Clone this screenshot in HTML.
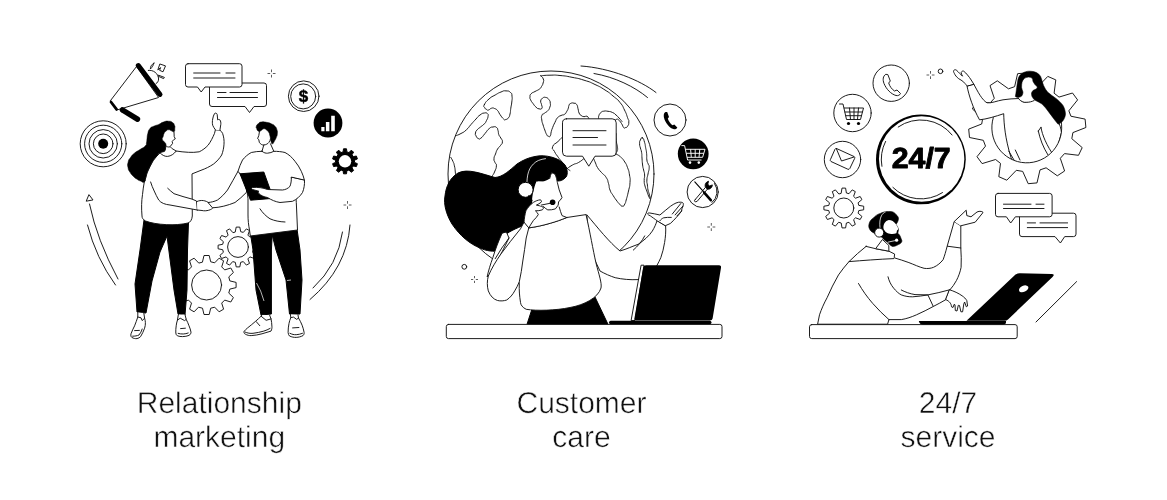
<!DOCTYPE html>
<html><head><meta charset="utf-8"><title>Customer service illustrations</title>
<style>
html,body{margin:0;padding:0;background:#fff;}
body{width:1167px;height:500px;overflow:hidden;position:relative;font-family:"Liberation Sans",sans-serif;}
svg{position:absolute;left:0;top:0;will-change:transform;}
text{text-rendering:geometricPrecision;}
.l{fill:none;stroke:#111;stroke-width:0.95;stroke-linecap:round;stroke-linejoin:round;}
.w{fill:#fff;stroke:#111;stroke-width:0.95;stroke-linecap:round;stroke-linejoin:round;}
.t{font-family:"Liberation Sans",sans-serif;fill:#000;}
.cap{font-family:"Liberation Sans",sans-serif;font-size:30px;text-anchor:middle;fill:#111;stroke:#fff;stroke-width:0.5px;}
</style></head><body>
<svg width="1167" height="500" viewBox="0 0 1167 500">
<g id="s1">
<path d="M89.5,204 Q97,240 118,279" class="l"/>
<path d="M87.5,225 Q96,258 115.5,285" class="l"/>
<path d="M88.8,195 L86.2,201.2 L92.6,200 Z" class="l"/>
<path d="M350,225 Q347,268 310,299.5" class="l"/>
<path d="M342.5,232 Q338,265 313,288" class="l"/>
<path d="M347.5,201V203.7M347.5,206.3V209M343.5,205H346.2M348.8,205H351.5" stroke="#333" stroke-width="0.8" fill="none"/>
<path d="M271.5,69.5V72.2M271.5,74.8V77.5M267.5,73.5H270.2M272.8,73.5H275.5" stroke="#333" stroke-width="0.8" fill="none"/>
<circle cx="103.2" cy="143.8" r="23" class="l"/>
<circle cx="103.2" cy="143.8" r="18.6" class="l"/>
<circle cx="103.2" cy="143.8" r="14.2" class="l"/>
<circle cx="103.2" cy="143.8" r="9.8" class="l"/>
<circle cx="103.2" cy="143.8" r="5" fill="#000"/>
<path d="M148.3,70.4 C153,69.5 158.5,73.5 158.6,79 C158.6,81 157.5,82.8 156,83.7" class="w"/>
<path d="M136.7,66.9 L158.6,97.5 L117.5,109.8 L110.5,101.2 Z" class="w"/>
<path d="M138.3,65.6 L160,94.4" stroke="#000" stroke-width="5" stroke-linecap="round"/>
<path d="M111,102 L116.6,109.4" stroke="#000" stroke-width="2.8" stroke-linecap="round"/>
<path d="M122.5,110 L137.4,119.2" stroke="#000" stroke-width="5.5" stroke-linecap="round"/>
<path d="M153.9,63.1 C151.5,64.5 150.2,66.8 150.4,69 C152,67.5 153.5,65.2 153.9,63.1Z M160.2,64.1 L165.5,65.9 L163,71.8 L159.6,70.3 L160.6,67.6 L158.1,69.7 Z M158.8,75.3 L164.4,77.4 L163.6,78.6 L158.6,76.4Z" class="w" stroke-width="0.8"/>
<path d="M212,83 H264 Q266.5,83 266.5,85.5 V104 Q266.5,106.5 264,106.5 H254 L249.5,112.5 L245,106.5 H212 Q209.5,106.5 209.5,104 V85.5 Q209.5,83 212,83Z" class="w"/>
<path d="M217.5,92.5H226M230,92.5H257.5M217.5,97.5H257.5" class="l"/>
<path d="M188,63.7 H239.5 Q242,63.7 242,66.2 V84.5 Q242,87 239.5,87 H205 L201.2,92 L197.5,87 H188 Q185.5,87 185.5,84.5 V66.2 Q185.5,63.7 188,63.7Z" class="w"/>
<path d="M193.7,73H220M226,73H235M193.7,78H235" class="l"/>
<circle cx="303.7" cy="96.2" r="15.3" class="w"/>
<circle cx="303.2" cy="96.4" r="12.5" class="l"/>
<text x="303.6" y="102.3" font-size="17" font-weight="bold" text-anchor="middle" class="t" stroke="#000" stroke-width="0.4">$</text>
<circle cx="328" cy="123" r="14.4" fill="#000"/>
<path d="M321.3,127H324.5V131.3H321.3Z M325.9,122H329.4V131.3H325.9Z M331.2,115.8H334.8V131.3H331.2Z" fill="#fff"/>
<path d="M354.5 162.4 L357.4 163.7 L356.4 166.6 L353.4 166.0 L352.0 167.8 L353.6 170.5 L351.1 172.3 L349.0 170.0 L346.9 170.7 L346.5 173.8 L343.5 173.8 L343.1 170.7 L341.0 170.0 L338.9 172.3 L336.4 170.5 L338.0 167.8 L336.6 166.0 L333.6 166.6 L332.6 163.7 L335.5 162.4 L335.5 160.2 L332.6 158.9 L333.6 156.0 L336.6 156.6 L338.0 154.8 L336.4 152.1 L338.9 150.3 L341.0 152.6 L343.1 151.9 L343.5 148.8 L346.5 148.8 L346.9 151.9 L349.0 152.6 L351.1 150.3 L353.6 152.1 L352.0 154.8 L353.4 156.6 L356.4 156.0 L357.4 158.9 L354.5 160.2Z" fill="#000" stroke="#000" stroke-width="1" stroke-linejoin="round"/>
<circle cx="345" cy="161.3" r="6.2" fill="#fff"/>
<path d="M235.3 231.7 L236.2 227.1 L239.8 227.1 L240.7 231.7 L243.3 232.4 L246.4 228.9 L249.5 230.6 L247.9 235.1 L249.9 237.1 L254.4 235.5 L256.1 238.6 L252.6 241.7 L253.3 244.3 L257.9 245.2 L257.9 248.8 L253.3 249.7 L252.6 252.3 L256.1 255.4 L254.4 258.5 L249.9 256.9 L247.9 258.9 L249.5 263.4 L246.4 265.1 L243.3 261.6 L240.7 262.3 L239.8 266.9 L236.2 266.9 L235.3 262.3 L232.7 261.6 L229.6 265.1 L226.5 263.4 L228.1 258.9 L226.1 256.9 L221.6 258.5 L219.9 255.4 L223.4 252.3 L222.7 249.7 L218.1 248.8 L218.1 245.2 L222.7 244.3 L223.4 241.7 L219.9 238.6 L221.6 235.5 L226.1 237.1 L228.1 235.1 L226.5 230.6 L229.6 228.9 L232.7 232.4Z" class="w" stroke-linejoin="round"/>
<circle cx="238" cy="247" r="10.4" class="l"/>
<path d="M202.5 261.8 L204.0 255.5 L209.2 255.5 L210.7 261.8 L214.7 262.8 L219.1 258.2 L223.6 260.8 L221.7 266.9 L224.7 269.9 L230.8 268.0 L233.4 272.5 L228.8 276.9 L229.8 280.9 L236.1 282.4 L236.1 287.6 L229.8 289.1 L228.8 293.1 L233.4 297.5 L230.8 302.0 L224.7 300.1 L221.7 303.1 L223.6 309.2 L219.1 311.8 L214.7 307.2 L210.7 308.2 L209.2 314.5 L204.0 314.5 L202.5 308.2 L198.5 307.2 L194.1 311.8 L189.6 309.2 L191.5 303.1 L188.5 300.1 L182.4 302.0 L179.8 297.5 L184.4 293.1 L183.4 289.1 L177.1 287.6 L177.1 282.4 L183.4 280.9 L184.4 276.9 L179.8 272.5 L182.4 268.0 L188.5 269.9 L191.5 266.9 L189.6 260.8 L194.1 258.2 L198.5 262.8Z" class="w" stroke-linejoin="round"/>
<circle cx="206.6" cy="285" r="15" class="l"/>
<path d="M144,220 L188.5,222 L187.5,250 L187,290 L185,315 L178,314 L174,290 L167,236 L160,252 L152,281 L146,313 L137,312 L135,284 L140,250 Z" fill="#000" stroke="#000" stroke-width="1" stroke-linejoin="round"/>
<path d="M137.8,312.6 L137.8,317 C136.8,320 135.7,323 134.6,325.8 C133.2,328.5 132,331.2 131,333.8 C130.6,335.5 130.9,336.7 131.8,337.4 C133.5,338.4 135.2,338.8 137,338.6 C138.5,338.3 139.7,337.6 140.6,336.6 C142.2,334 143.5,331.2 144.6,328.2 C145.2,326.3 145.5,324.5 145.4,322.6 C145.3,321 145,319.5 144.6,318.2 L143.8,313" class="w"/>
<path d="M137.8,317 L141,317.8 L142.2,320.6 L144.6,318.2 M134.6,330.6 L139.4,330.4 M132.6,336.2 C135,336.2 137.2,335.8 139,335 C140.5,333.3 141.5,331.2 142.2,329" class="l" stroke-width="0.8"/>
<path d="M178.4,314.4 L177.4,320.2 C176.8,322 176.4,324 176.2,325.8 C175.8,328.2 175.7,330.6 175.8,333 C176,334.4 176.5,335.3 177.4,335.8 C179,336.4 180.8,336.7 182.6,336.6 C184.8,336.6 187,336.2 189,335.4 C190.3,334.6 191,333.5 191,332.2 C190.6,330 189.9,327.8 189,325.8 C188.2,323.6 187.3,321.4 186.2,319.4 L185,314.6" class="w"/>
<path d="M177.4,320.2 L180.2,318.2 L184.6,320.6 L186.2,319.4 M180.6,328.6 L185.4,328.2 M178.2,333.4 C181.5,334.4 185,334.2 188.2,333" class="l" stroke-width="0.8"/>
<path d="M160,152.8 C162.5,155.5 165,156.6 167.7,156.4 C171,156 174,154 176.2,151 C180,151.6 184,152.1 188.4,152.3 C192,152.5 195.5,152.4 199.2,151.8 C202.5,150.3 205.5,148 208.2,145.1 C210.8,141.5 212.8,137.5 214.5,133.4 L215.4,129.8 L219.9,130.2 C221,131 222,132 222.6,133.4 C223.8,137 224.3,140.5 224,144.2 C223.8,148 223,151.5 221.7,155 C219.5,158.5 216.8,161.5 213.6,164 C209.8,166.6 205.5,168.7 201,170.3 L192,173.9 L192.3,216 C192,220 190,222.5 188,223 C176,226 156,225 145.5,221 C143,219.5 142,218 142,216 C141.3,208 141.5,201 142.5,194.6 C143,190 143.5,186 144.3,182 C145.5,178.5 146.5,175.5 147,173 C149,168.5 151,164.3 153.3,160.4 C155.5,157.5 158,154.8 160,152.8 Z" class="w"/>
<path d="M215.4,129.8 C214.3,128.3 213.3,126.8 212.7,125.3 C212.2,123.2 212.3,121 212.7,119 C213,117 213.7,115 214.5,113.6 C215.5,112.6 216.8,113.2 217.2,114.5 L217.7,119.9 C218.5,119.3 219.3,119.3 219.9,119.9 C220.8,121.3 221,122.8 220.8,124.4 L219.9,130.2" class="w"/>
<path d="M174.5,125.3 C173.7,123.3 174.5,123.9 172.5,122.5 C170.5,121.1 171.6,121.4 168.6,121.2 C165.6,121.0 166.8,120.9 163.5,122.0 C160.2,123.1 162.0,123.0 158.7,124.4 C155.4,125.8 156.5,124.8 153.5,126.3 C150.5,127.8 151.6,126.5 149.7,128.9 C147.8,131.3 148.7,130.2 147.8,133.5 C146.9,136.8 147.4,135.8 147.0,138.8 C146.6,141.8 147.1,140.1 146.5,142.5 C145.9,144.9 147.4,143.7 145.2,146.0 C143.0,148.3 143.6,147.1 140.0,149.5 C136.4,151.9 137.6,150.5 134.4,153.2 C131.2,155.9 132.6,154.5 130.5,157.5 C128.4,160.5 128.9,158.9 128.1,162.2 C127.3,165.5 127.4,164.2 128.0,167.5 C128.6,170.8 128.2,169.3 129.9,172.1 C131.6,174.9 130.6,173.6 133.0,176.0 C135.4,178.4 134.6,177.6 137.1,179.3 C139.6,181.0 138.1,180.1 140.5,181.0 C142.9,181.9 142.5,183.2 144.3,182.0 C146.1,180.8 144.9,180.5 145.8,177.5 C146.7,174.5 145.6,176.7 147.0,173.0 C148.4,169.3 147.9,170.7 150.0,166.5 C152.1,162.3 151.0,163.8 153.3,160.4 C155.6,157.0 154.6,158.7 156.8,156.2 C159.0,153.7 157.8,154.3 160.0,152.8 C162.2,151.3 161.8,152.6 163.5,151.8 C165.2,151.0 164.3,152.0 165.0,150.5 C165.7,149.0 165.4,149.4 165.7,147.3 C166.0,145.2 166.4,146.0 165.9,144.2 C165.4,142.4 165.4,143.5 164.2,141.8 C163.0,140.1 162.6,141.0 162.3,139.2 C162.0,137.4 162.6,138.4 163.2,136.5 C163.8,134.6 163.2,135.2 164.1,133.4 C165.0,131.6 164.5,132.4 166.0,131.2 C167.5,130.0 166.8,129.9 168.6,129.8 C170.4,129.7 169.5,130.2 171.3,130.8 C173.1,131.4 172.8,132.4 174.0,131.6 C175.2,130.8 174.6,130.6 174.8,128.5 C175.0,126.4 175.3,127.3 174.5,125.3Z" fill="#000" stroke="#000" stroke-width="0.5"/>
<path d="M174,131.6 L174.2,136.6 L175.3,138.8 L173.8,139.6 L172.2,141.5 L172.6,143.4 L171.3,145.1 C170.8,146 170.2,146.6 169.5,146.9 C168.3,147.2 167,146.8 165.9,146 M170.3,146.8 L172.2,148.7 L176.2,151 M165.7,147.3 L165,150.5 L160,152.8" class="l"/>
<path d="M150.6,182 C151.5,185 152.8,188 154.2,191 C155.5,194 157,197 158.7,200 C161,203 165,204.5 170,205 L197.3,210 L196.5,201 L192,199.1 C186,197.5 180,195.8 174,193.7 C171.8,192 169.7,190.2 167.7,188.3 Z" fill="#fff" stroke="none"/>
<path d="M150.6,182 C151.5,185 152.8,188 154.2,191 C155.5,194 157,197 158.7,200 C161,203 165,204.5 170,205 L197.3,210" class="l"/>
<path d="M167.7,188.3 C169.7,190.2 171.8,192 174,193.7 C180,195.8 186,197.5 192,199.1 L196.5,201 L197.3,210" class="l"/>
<path d="M197,201.5 C201,199.5 206,200.5 209,203 C212,203.5 214,205 213.5,207 C212,210 206,211.5 202,210.5 L197.3,210" class="w"/>
<path d="M250.5,234 L297,229 L300,250 L302,280 L300,314 L289.5,314 L286,280 L276,250 L272.2,235 L271.4,250 L271.4,314 L261,315 L256,290 L253,250 Z" fill="#000" stroke="#000" stroke-width="1" stroke-linejoin="round"/>
<path d="M256.5,283 Q261,290 264,301" stroke="#fff" stroke-width="0.7" fill="none"/>
<path d="M287,280.5 L291,280" stroke="#fff" stroke-width="0.7" fill="none"/>
<path d="M262,314.9 L261.1,316.2 C259.3,318 257.5,319.6 255.7,321.2 C253,323.5 250.3,325.8 247.6,327.9 C246.2,329 245,330.2 244,331.5 C243.8,332.8 244.3,333.7 245.4,334.2 C247.2,335.2 249.2,335.7 251.2,335.6 C254.8,335.4 258.4,334.8 262,333.8 C265,333 268,332.1 271,331.1 C271.8,329.5 272.1,327.8 271.9,326.1 C271.8,323.6 271.5,321.2 271,318.9 L269.7,315.3" class="w"/>
<path d="M261.1,316.2 L266.1,320.3 L271,318.9 M256.2,321.6 L259.8,325.7 M244.9,332 C247.6,333.2 250.3,333.6 253,333.3 C256.6,332.9 260.2,332.1 263.8,331.1 C266,330.4 268.1,329.5 270.1,328.4" class="l" stroke-width="0.8"/>
<path d="M290.4,314.4 L290.8,317.6 C290,319.5 289.4,321.5 289,323.4 C288.4,326.4 288.1,329.4 288.1,332.4 C288.2,334 288.7,335.2 289.5,336 C291.7,337 294,337.5 296.2,337.4 C298.6,337.3 300.9,336.7 303,335.6 C303.9,334.7 304.3,333.6 304.1,332.4 C303.7,330 303,327.6 302.1,325.2 C301.1,322.7 299.9,320.3 298.5,318 L298,314.9" class="w"/>
<path d="M290.8,317.6 L293.5,317.1 L296.7,319.4 L298.5,318 M292.6,327.9 L298.9,327.5 M289.9,333.3 C292,334.4 294.1,334.8 296.2,334.7 C298.4,334.6 300.5,334.1 302.5,333.3" class="l" stroke-width="0.8"/>
<path d="M238,171.3 C234.5,177.5 231,184 227.5,190 C224.5,194 221,197.5 217.5,200 C214.5,201.5 211,202.3 208,202.5 L212.5,207.8 C220,207.5 227.5,205.5 235,202.5 C239,199.5 243,196 246.3,192.5 L248,185 Z" class="w"/>
<path d="M262,151.3 C264,153 266,153.3 267.5,153.2 C270,153 272,152.3 273.8,151.3 C277.5,151.3 281.3,151.6 285,152.5 C288.8,154.5 292.2,157.5 295,161.3 C297.5,164.3 299.6,167.6 301.3,171.3 C302.7,174.3 303.8,177.4 304.5,180.5 L291.3,177.5 C294.5,186 296,194.5 296.3,202.5 L297.5,230 L250.3,236 L249.5,230 C248.5,225 248,220 248,215 L248,198.8 C247,189 244.5,178.5 238,171.3 C239.2,167.3 240.7,163.5 242.5,160 C245,156.8 248,154.3 251.3,152.5 C254.8,151.7 258.4,151.3 262,151.3 Z" class="w"/>
<path d="M260,208.8 C262.5,212.8 266,216.2 270,218.8 C274.5,220.8 279.5,221.8 285,222" class="l"/>
<path d="M263.8,145 L262,151.3 M270.5,143.8 L273.8,151.3" class="l"/>
<path d="M256.3,126.3 C256.9,124.5 256.8,124.9 258.5,123.5 C260.2,122.1 258.6,122.4 261.3,122.0 C264.0,121.6 263.2,121.7 266.5,122.3 C269.8,122.9 268.5,122.5 271.3,123.8 C274.1,125.1 273.1,124.2 275.0,126.3 C276.9,128.4 276.2,127.4 277.0,130.0 C277.8,132.6 277.5,131.5 277.3,134.0 C277.1,136.5 277.2,135.2 276.3,137.5 C275.4,139.8 275.8,138.9 274.5,141.0 C273.2,143.1 273.7,143.6 272.5,143.8 C271.3,144.0 271.7,143.2 271.0,141.5 C270.3,139.8 270.9,140.8 270.5,138.8 C270.1,136.8 270.4,137.6 269.8,135.5 C269.2,133.4 269.9,134.3 268.8,132.5 C267.7,130.7 268.2,131.2 266.5,130.0 C264.8,128.8 265.5,128.7 263.8,128.8 C262.1,128.9 262.9,129.5 261.5,130.3 C260.1,131.1 260.8,131.2 259.5,131.3 C258.2,131.4 258.4,131.3 257.5,130.5 C256.6,129.7 257.2,130.2 256.8,128.8 C256.4,127.4 255.7,128.1 256.3,126.3Z" fill="#000" stroke="#000" stroke-width="0.5"/>
<path d="M259.5,131.3 L258.8,135.5 L257.6,138.6 L258.8,139.6 L259.3,142.3 C260.5,144.2 262.3,145.2 263.8,145 C266,144.8 267.8,143.8 268.8,142.5 C269.8,141.3 270.3,140 270.5,138.8" class="l"/>
<path d="M240,173.8 L263.8,172 L272.3,195.5 L271,198.5 L250.5,200.2 Z" fill="#000" stroke="#000" stroke-width="1" stroke-linejoin="round"/>
<path d="M291.3,177.5 C291.5,180.5 291,183.5 290,186.3 C288,188.5 285.5,189.7 282.5,190 L267.5,189.5 C263,187.8 257.5,187 252.5,187.5 C251.3,188 251.3,189 252.5,189.5 L259,191.3 C258,192 258,193 258.8,193.5 C261,195.5 264,197 267.5,197.5 C271.5,200 275.5,201.8 280,202.5 L292.5,201.3 C296.5,199.5 300,196.5 302.5,192.5 C304,188.8 304.7,184.8 304.5,180.5 Z" class="w"/>
</g>
<g id="s2">
<path d="M581,66 C610,68 640,80 656,92.5" class="l"/>
<path d="M594,73.5 C615,77 635,87 647.5,97.5" class="l"/>
<circle cx="551" cy="174" r="103" class="w"/>
<path d="M484.4,104.6 C485.9,101.8 485.4,102.2 489.0,99.0 C492.6,95.8 491.2,97.3 495.2,95.0 C499.2,92.7 497.4,93.4 501.0,92.0 C504.6,90.6 502.8,90.7 506.0,90.9 C509.2,91.1 508.5,90.7 510.5,92.5 C512.5,94.3 511.6,93.0 512.0,96.2 C512.4,99.4 512.2,98.0 511.8,102.0 C511.4,106.0 511.4,104.2 510.8,108.2 C510.2,112.2 510.8,110.8 510.0,114.0 C509.2,117.2 509.8,116.0 508.4,117.8 C507.0,119.6 507.4,119.1 505.8,119.5 C504.2,119.9 505.5,120.7 503.6,119.0 C501.7,117.3 502.0,117.3 500.0,114.5 C498.0,111.7 499.4,112.6 497.6,110.6 C495.8,108.6 496.5,109.3 494.5,108.5 C492.5,107.7 493.6,107.7 491.6,108.2 C489.6,108.7 490.2,109.6 488.5,110.0 C486.8,110.4 487.8,110.2 486.5,109.4 C485.2,108.6 485.3,109.1 484.6,107.5 C483.9,105.9 482.9,107.4 484.4,104.6Z" class="l"/>
<path d="M455.6,135.8 C457.4,135.0 457.4,135.5 461.0,133.5 C464.6,131.5 463.1,132.8 466.4,129.8 C469.7,126.8 467.8,128.1 471.0,124.5 C474.2,120.9 473.0,122.2 476.0,119.0 C479.0,115.8 477.2,117.0 480.0,115.0 C482.8,113.0 481.9,113.4 484.4,113.0 C486.9,112.6 486.3,112.6 487.5,113.8 C488.7,115.0 488.3,114.4 488.0,116.6 C487.7,118.8 487.7,118.1 486.5,120.5 C485.3,122.9 486.4,121.6 484.4,123.8 C482.4,126.0 482.9,125.0 480.5,127.0 C478.1,129.0 478.9,127.8 477.2,129.8 C475.5,131.8 475.9,131.0 475.5,133.0 C475.1,135.0 475.2,134.0 476.0,135.8 C476.8,137.6 476.4,137.5 478.0,138.3 C479.6,139.1 478.5,139.8 480.8,138.2 C483.1,136.6 482.2,136.7 485.0,133.5 C487.8,130.3 486.5,130.8 489.2,128.6 C491.9,126.4 490.6,127.4 493.0,127.0 C495.4,126.6 494.7,126.2 496.4,127.4 C498.1,128.6 497.2,128.1 498.0,130.5 C498.8,132.9 497.9,132.1 498.8,134.6 C499.7,137.1 499.6,135.6 500.8,138.0 C502.0,140.4 502.5,139.3 502.4,141.8 C502.3,144.3 502.1,143.1 500.5,145.5 C498.9,147.9 499.3,146.2 497.6,149.0 C495.9,151.8 496.7,150.8 495.5,154.0 C494.3,157.2 494.2,155.8 494.0,158.6 C493.8,161.4 494.2,160.1 495.0,162.5 C495.8,164.9 496.6,162.6 496.4,165.8 C496.2,169.0 496.1,168.0 494.5,172.0 C492.9,176.0 492.9,173.8 491.6,177.8 C490.3,181.8 490.9,181.9 490.5,184.0" class="l"/>
<path d="M450.8,157.4 C451.5,158.8 451.8,158.7 453.0,161.5 C454.2,164.3 453.6,162.3 454.4,165.8 C455.2,169.3 454.9,168.0 455.3,172.0 C455.7,176.0 455.7,174.1 455.6,177.8 C455.5,181.5 455.2,181.3 455.0,183.0" class="l"/>
<path d="M540.7,75.8 C541.6,76.9 542.5,76.6 543.3,79.0 C544.1,81.4 543.7,80.5 543.1,83.0 C542.5,85.5 542.7,84.5 541.5,86.5 C540.3,88.5 541.7,87.3 539.5,89.0 C537.3,90.7 537.8,89.9 535.0,91.5 C532.2,93.1 532.8,92.0 531.1,93.8 C529.4,95.6 530.2,94.8 530.0,96.8 C529.8,98.8 529.6,97.6 530.6,99.8 C531.6,102.0 531.2,101.1 533.0,103.5 C534.8,105.9 533.9,105.2 535.9,107.0 C537.9,108.8 537.0,108.4 539.0,108.8 C541.0,109.2 541.1,109.6 541.9,108.2 C542.7,106.8 541.9,106.9 541.5,104.5 C541.1,102.1 540.4,103.1 540.7,101.0 C541.0,98.9 540.9,99.5 542.5,98.3 C544.1,97.1 543.4,97.0 545.5,97.4 C547.6,97.8 547.2,97.5 548.8,99.5 C550.4,101.5 550.0,100.8 550.3,103.4 C550.6,106.0 550.6,104.8 549.8,107.2 C549.0,109.6 549.7,108.6 547.9,110.6 C546.1,112.6 546.5,111.6 544.5,113.2 C542.5,114.8 542.8,113.1 541.9,115.4 C541.0,117.7 541.4,116.8 541.8,120.0 C542.2,123.2 542.1,121.7 543.1,125.0 C544.1,128.3 543.6,126.8 544.8,130.0 C546.0,133.2 545.5,132.5 546.7,134.6 C547.9,136.7 547.3,135.9 548.5,136.3 C549.7,136.7 549.4,137.4 550.3,135.8 C551.2,134.2 550.5,134.3 551.3,131.5 C552.1,128.7 551.5,130.5 552.7,127.4 C553.9,124.3 553.4,125.5 555.0,122.3 C556.6,119.1 555.5,120.1 557.5,117.8 C559.5,115.5 558.6,116.7 561.0,115.5 C563.4,114.3 562.8,115.6 564.7,114.2 C566.6,112.8 565.6,113.3 566.8,111.3 C568.0,109.3 567.6,110.2 568.3,108.2 C569.0,106.2 568.2,106.9 569.0,105.3 C569.8,103.7 569.0,104.1 570.7,103.4 C572.4,102.7 572.0,102.8 574.0,103.2 C576.0,103.6 575.4,102.8 576.7,104.6 C578.0,106.4 577.2,105.9 578.0,108.7 C578.8,111.5 578.1,110.8 579.1,113.0 C580.1,115.2 579.4,114.1 581.0,115.3 C582.6,116.5 581.9,116.3 583.9,116.6 C585.9,116.9 585.3,115.6 587.0,116.3 C588.7,117.0 588.3,118.0 589.0,118.8" class="l"/>
<path d="M540.7,75.8 C543.8,75.6 543.6,75.3 550.0,75.2 C556.4,75.1 552.7,74.8 560.0,75.5 C567.3,76.2 564.0,75.7 572.0,77.3 C580.0,78.9 576.3,77.8 584.0,80.2 C591.7,82.6 588.0,81.2 595.0,84.5 C602.0,87.8 599.0,86.2 605.0,90.0 C611.0,93.8 608.0,91.8 613.0,96.0 C618.0,100.2 616.2,97.8 620.0,102.5 C623.8,107.2 622.0,105.0 624.5,110.0 C627.0,115.0 626.1,113.5 627.5,117.5 C628.9,121.5 628.8,119.1 628.8,122.0 C628.8,124.9 628.7,124.4 627.5,126.3 C626.3,128.2 626.6,127.2 625.3,127.6 C624.0,128.0 625.0,128.9 623.7,127.5 C622.4,126.1 623.2,126.0 621.5,123.5 C619.8,121.0 620.3,121.4 618.7,120.0 C617.1,118.6 617.9,119.3 616.8,119.3 C615.7,119.3 615.9,119.8 615.5,120.0" class="l"/>
<path d="M598.7,118.8 C598.8,117.7 598.1,117.6 598.9,115.5 C599.7,113.4 599.4,113.9 601.0,112.5 C602.6,111.1 601.4,111.6 603.7,111.2 C606.0,110.8 605.1,110.9 608.0,111.3 C610.9,111.7 609.8,111.3 612.5,112.5 C615.2,113.7 613.8,113.2 616.0,115.0 C618.2,116.8 617.0,115.8 619.0,118.0 C621.0,120.2 621.0,120.3 622.0,121.5" class="l"/>
<path d="M562.5,137.0 C561.0,138.5 561.3,138.3 558.0,141.5 C554.7,144.7 553.9,143.3 552.7,146.6 C551.5,149.9 552.9,148.3 554.5,151.5 C556.1,154.7 555.0,152.7 557.5,156.2 C560.0,159.7 558.8,158.0 562.0,162.0 C565.2,166.0 564.4,165.4 567.1,168.2 C569.8,171.0 569.0,169.7 570.0,170.5" class="l"/>
<path d="M566.0,169.5 C568.2,168.0 568.3,167.3 572.5,165.0 C576.7,162.7 574.8,164.6 578.5,162.5 C582.2,160.4 582.0,160.0 583.7,158.7" class="l"/>
<path d="M593.7,158.7 C594.3,160.1 594.2,160.1 595.5,163.0 C596.8,165.9 595.5,164.3 597.5,167.5 C599.5,170.7 598.6,169.2 601.5,172.5 C604.4,175.8 603.9,173.8 606.2,177.5 C608.5,181.2 607.2,179.3 608.5,183.5 C609.8,187.7 608.5,186.1 610.0,190.0 C611.5,193.9 610.9,192.0 613.0,195.3 C615.1,198.6 614.1,197.2 616.2,200.0 C618.3,202.8 617.2,201.7 619.3,203.8 C621.4,205.9 620.7,206.1 622.5,206.2 C624.3,206.3 623.6,206.1 624.8,204.0 C626.0,201.9 625.0,204.3 626.2,200.0 C627.4,195.7 627.2,196.8 628.5,191.0 C629.8,185.2 629.7,187.8 630.0,182.5 C630.3,177.2 630.3,180.0 629.5,175.0 C628.7,170.0 629.1,171.8 627.5,167.5 C625.9,163.2 626.9,165.3 624.8,162.0 C622.7,158.7 623.3,159.7 621.2,157.5 C619.1,155.3 620.2,156.6 618.5,155.3 C616.8,154.0 616.6,155.3 616.2,153.7 C615.8,152.1 616.9,152.6 617.3,150.5 C617.7,148.4 617.8,150.8 617.5,147.5 C617.2,144.2 616.7,145.1 616.3,140.5 C615.9,135.9 616.2,136.0 616.2,133.7" class="l"/>
<path d="M642.5,137.8 C643.9,138.6 643.6,139.3 644.6,142.5 C645.6,145.7 644.9,143.8 645.6,147.5 C646.3,151.2 646.2,149.3 646.6,153.5 C647.0,157.7 646.4,156.5 646.9,160.0 C647.4,163.5 647.4,161.5 648.2,164.0 C649.0,166.5 649.3,164.2 649.2,167.5 C649.1,170.8 648.8,169.8 648.0,174.0 C647.2,178.2 647.1,176.3 646.9,180.0 C646.7,183.7 647.0,181.7 647.4,185.0 C647.8,188.3 647.4,187.0 648.0,190.0 C648.6,193.0 648.5,191.2 649.2,194.0 C649.9,196.8 650.4,197.8 650.2,198.5 C650.0,199.2 649.7,198.5 648.6,196.0 C647.5,193.5 648.0,194.3 646.8,191.0 C645.6,187.7 645.9,189.5 645.0,186.0 C644.1,182.5 644.3,184.2 644.2,180.5 C644.1,176.8 644.8,178.5 644.6,175.0 C644.4,171.5 644.3,173.3 643.6,170.0 C642.9,166.7 643.1,169.0 642.6,165.0 C642.1,161.0 642.3,162.2 642.0,158.0 C641.7,153.8 642.1,155.8 641.6,152.5 C641.1,149.2 641.1,150.9 640.4,148.0 C639.7,145.1 639.6,146.4 639.6,143.7 C639.6,141.0 639.4,142.0 640.4,140.0 C641.4,138.0 641.1,137.0 642.5,137.8Z" class="l"/>
<path d="M566.5,118.8 H612.2 Q616.2,118.8 616.2,122.8 V152.2 Q616.2,156.2 612.2,156.2 H595 L588.8,166.2 L582.5,156.2 H566.5 Q562.5,156.2 562.5,152.2 V122.8 Q562.5,118.8 566.5,118.8Z" class="w"/>
<path d="M573,130.7H606M573,137.5H597.5M573,145H606" class="l"/>
<circle cx="670" cy="120" r="16" class="w"/>
<path d="M665.5,112 C663.5,113 663.2,116 664.5,119.5 C666.5,124.5 670.5,128.5 674,129.3 C675.5,129.5 677,128.5 677.3,127.5 L674.3,124.5 L672.5,125.3 C670.5,124 668.5,121 667.8,118.5 L669,117 L667.2,112 Z" fill="#000"/>
<circle cx="693.2" cy="153.8" r="15.4" fill="#000"/>
<path d="M681.4,145.6 H684.6 L687.6,160 H701.5 M685.4,149.3 H705 L702.6,157.3 H687 M686.2,153.3 H703.8 M690.6,149.3 L691.3,157.3 M695.2,149.3 V157.3 M699.8,149.3 L699,157.3" stroke="#fff" stroke-width="0.95" fill="none" stroke-linejoin="round"/>
<circle cx="690" cy="162.6" r="1.3" fill="#fff"/><circle cx="698.8" cy="162.6" r="1.3" fill="#fff"/>
<circle cx="702.7" cy="192" r="15.6" class="w"/>
<path d="M714.5,183.5 A14,14 0 0 1 712,202.5" class="l" stroke-width="0.7"/>
<path d="M695.2,199.6 L705.6,187.2 L707.6,188.9 L697.2,201.3 Q695.6,202.3 694.6,201.3 Q694,200.4 695.2,199.6Z" class="w" stroke-width="0.9"/>
<path d="M705.2,186.6 C704.6,184.2 706,181.8 708.6,181.2 L707.8,184.2 L709.6,185.9 L712.4,184.9 C712.2,187.6 710,189.6 707.4,189.2 Z" fill="#000" stroke="#000" stroke-width="0.8" stroke-linejoin="round"/>
<path d="M694.8,181.8 L704,192.2" stroke="#000" stroke-width="1.1" stroke-linecap="round"/>
<path d="M704.2,192.6 L710.8,200.2" stroke="#000" stroke-width="2.6" stroke-linecap="round"/>
<path d="M711.3,223V225.7M711.3,228.3V231M707.3,227H710.0M712.5999999999999,227H715.3" stroke="#333" stroke-width="0.8" fill="none"/>
<path d="M474.5,276.0V278.2M474.5,280.8V283.0M471.0,279.5H473.2M475.8,279.5H478.0" stroke="#333" stroke-width="0.8" fill="none"/>
<circle cx="464.3" cy="266.8" r="2.4" class="l"/>
<path d="M587,215 C598,228 609,242 620,251 C627,249 633,246 638,244.4 C644,240.5 649,236 652.3,231.1 C654.5,227.5 656,224 657,220.7 L665.6,225.6 C666,231.5 665.5,237 664.6,242.5 C663.8,247.8 662.5,252.8 660.8,257.7 C659.5,260.5 658.3,263 657,265.3 C652,272.5 645.5,277.5 638,279.6 C630,280 622.5,279.3 615.2,277.7 C610,276 605,273.8 600,271 L590,250 Z" class="w"/>
<path d="M633.3,250.1 C638,246 642,241.3 644.7,235.9" class="l"/>
<path d="M657,220.7 C654.5,218.8 652.3,217.3 650.4,215.9 C649,215.3 648,214.7 647.5,214 C647.8,213 648.8,212.8 649.8,213 C653,213.5 656.5,214.2 659.9,215 C663.5,212 667,209 670.3,206.4 C672.2,205 674.2,203.8 676,203 C677.8,202.3 679.5,202 680.8,202.2 C682.3,202.3 683.3,202.8 683.3,203.6 C683.5,205 683,206.8 682.1,208.3 L681.4,211.2 C679.8,213.5 678,215.8 676,217.8 C674.2,219.8 672.3,221.8 670.3,223.5 L665.6,225.6 Z" class="w"/>
<path d="M680.8,203.5 L672.3,214 M682.7,206.3 L675.1,214.9 M681.7,211 L677,215.8 M659.9,220.7 C661,219.3 662.3,218.3 663.7,217.8 C666.3,217.3 668.8,217.3 671.3,217.4" class="l" stroke-width="0.8"/>
<path d="M532,309 L595,297 L608,324.3 L527,324.3 Z" fill="#000" stroke="#000" stroke-width="1"/>
<path d="M528.8,227.9 C540,226.5 556,222 566.8,217.5 L586,214.6 C590,232 593,250 596,263 C599,275 602,283 601,288 C598,298 584,305 570,307.5 C556,310.5 536.6,311 526.2,309.3 C522.5,307.5 520.7,305 520.5,302.4 C519.5,296 519,290 519.3,284 L517,270 L521,240 Z" class="w"/>
<path d="M535,156.5 C545,154 560,158 565,165 C568,170 568,176 565,178 C562,181 559,181 557.5,181 C556,177 555,174 552.5,173.5 C550,176 549,180 547,181.5 L538,181 C535,184 534,188 535,192 L533,203 C531,212 526,222 522,226 C512,230 505,234 502,238 C501,244 501,248 500,250.5 C494,252 486,251 480,248 C470,244 460,236 452,224 C446,214 443.5,204 445,196 C446,186 450,178 458,173 C468,168 482,174 495,177.5 C503,177 510,170 517,164 C523,160 529,157.5 535,156.5 Z" fill="#000" stroke="#000" stroke-width="1"/>
<path d="M536.4,181.4 L543,181.4 C545.5,181 548,180 549.7,178.5 C550.3,176.3 550.8,174.3 551.6,172.8 C553,173 554.3,173.7 555.4,174.7 C556.3,177 556.9,179.7 557.3,182.3 L559.2,189.9 L562,197.5 L560.1,200.4 L558.5,201.5 L558.2,205.1 L555.4,208.9 L559.2,207 L562,215.6 L566.8,217.5 C561,220 555.5,221.8 550.6,223.2 C543,225.5 535.5,227 528.8,227.9 L533,214 L532,200 C532.5,195 533.3,191 534.5,187.1 C535,185 535.6,183 536.4,181.4 Z" fill="#fff" stroke="none"/>
<path d="M549.7,178.5 C550.3,176.3 550.8,174.3 551.6,172.8 C553,173 554.3,173.7 555.4,174.7 C556.3,177 556.9,179.7 557.3,182.3 L559.2,189.9 L562,197.5 L560.1,200.4 L558.6,201.6 L558.2,205.1 L555.4,208.9 C553,209.7 550.3,210 547.8,209.9 C546,209 544.5,207.8 543.5,206.5 M559.2,207 C560,210 561,213 562,215.6 L566.8,217.5" class="l"/>
<path d="M526.9,183.3 C527,177 528,172.5 529.7,169 C531.8,165 534.8,162.2 538.3,160.5 C540.8,159.5 543.3,158.9 545.9,158.6" stroke="#fff" stroke-width="0.8" fill="none"/>
<circle cx="525.6" cy="189.8" r="7.5" fill="#fff" stroke="#000" stroke-width="1"/>
<path d="M529,196.3 L531.5,200.5" stroke="#000" stroke-width="2.2" stroke-linecap="round"/>
<path d="M502,233.4 C498.5,241 495.5,249 492.9,257.5 C490.5,264 488.5,270.5 487.1,277 L492,272 L509,238 L506.5,232.3 Z" class="w"/>
<path d="M509,238 C504,244.5 499.3,251.5 495.2,258.7" class="l"/>
<path d="M524,222.2 L520.5,228.8 C514,237 507,245.5 500.9,254 C496,261 491.5,268.5 488.3,276 C487,281 487,286 488.3,290.9 C490.3,296 493.5,299.3 497.5,300.5 C500.5,301.2 503.8,301 506.7,300 C510,297.8 512.7,294.6 514.7,290.9 C516.5,288 518,285 519.3,281.7 C520.8,275 522,268 522.8,261 C524,253.5 525.2,245.8 526.2,238 L528.8,227.9 Z" class="w"/>
<path d="M524,222.2 C524.3,218 525,214.3 525.9,210.8 C527.8,207.5 530.3,204.6 533.5,202.3 C535.6,201 537.9,200.1 540.2,199.8 C541.5,200.3 541.8,201.3 541.2,202.2 C539.8,203.4 538,204.4 536.4,205.1 C538.8,205.5 541,206.1 543,207 C543.8,208 543.4,209.3 542.1,209.9 C540,210.6 537.7,210.9 535.4,210.8 C536.8,211.8 537.8,213.2 538.3,214.6 C537,216.8 535.3,218.7 533.5,220.3 C531.8,222.8 530.2,225.3 528.8,227.9 L524,222.2 Z" class="w"/>
<path d="M541.1,205.1 L550.6,203.2" stroke="#fff" stroke-width="2.4" stroke-linecap="round"/>
<path d="M541.1,205.1 L550.6,203.2" stroke="#000" stroke-width="0.9" stroke-linecap="round"/>
<circle cx="552.6" cy="202.3" r="2.8" fill="#000"/>
<path d="M528.8,227.9 C535.5,227 543,225.5 550.6,223.2 C555.5,221.8 561,220 566.8,217.5" class="l"/>
<rect x="446.3" y="324.4" width="275.7" height="14.2" rx="2.2" class="w"/>
<path d="M641.5,265.2 L644,265.2 L635,320.5 L631.5,320.5 Z" class="w"/>
<path d="M646,265.2 H719 Q721.5,265.2 721,267.7 L712.6,318.5 Q712.2,320.6 710,320.6 H636 Q634,320.6 634.4,318.5 L643.3,267.4 Q643.7,265.2 646,265.2 Z" fill="#000"/>
<rect x="609" y="320.8" width="102.5" height="3.4" rx="1.7" fill="#000"/>
</g>
<g id="s3">
<circle cx="891.2" cy="83.2" r="18.2" class="w"/>
<path d="M885.5,74.5 C883,76 882.5,79.5 884,83.5 C886.5,89.5 891,94 896,95.5 C898,96 900,95 900.5,93.5 L897,90 L894.5,91 C892,89.5 889.5,86 888.7,83 L890.3,81 L888,75 Z" class="l"/>
<circle cx="852.5" cy="113" r="18.7" class="w"/>
<path d="M839.5,104 H843 L846.5,119.5 H860.5 L863.5,108 H844.2 M845,112 H862.5 M845.8,115.7 H861.5 M849.5,108 L850.5,119.5 M854,108 V119.5 M858.5,108 L857.5,119.5" class="l"/>
<circle cx="848.5" cy="123.5" r="1.6" fill="#000"/><circle cx="858.5" cy="123.5" r="1.6" fill="#000"/>
<circle cx="842.5" cy="159.5" r="18.2" class="w"/>
<path d="M836.5,148.5 L854,156.5 Q855.2,157.2 854.6,158.5 L849.8,168.5 Q849.2,169.8 847.8,169.2 L831,161.5 Q829.8,160.9 830.4,159.6 L835,149.2 Q835.5,148 836.5,148.5Z M836.5,149 L841.5,161 L854,157" class="l" stroke-linejoin="round"/>
<path d="M841.2 193.0 L842.0 188.1 L845.6 188.1 L846.4 193.0 L849.0 193.7 L852.2 189.9 L855.3 191.6 L853.6 196.3 L855.5 198.2 L860.2 196.5 L861.9 199.6 L858.1 202.8 L858.8 205.4 L863.7 206.2 L863.7 209.8 L858.8 210.6 L858.1 213.2 L861.9 216.4 L860.2 219.5 L855.5 217.8 L853.6 219.7 L855.3 224.4 L852.2 226.1 L849.0 222.3 L846.4 223.0 L845.6 227.9 L842.0 227.9 L841.2 223.0 L838.6 222.3 L835.4 226.1 L832.3 224.4 L834.0 219.7 L832.1 217.8 L827.4 219.5 L825.7 216.4 L829.5 213.2 L828.8 210.6 L823.9 209.8 L823.9 206.2 L828.8 205.4 L829.5 202.8 L825.7 199.6 L827.4 196.5 L832.1 198.2 L834.0 196.3 L832.3 191.6 L835.4 189.9 L838.6 193.7Z" class="w" stroke-linejoin="round"/>
<circle cx="843.8" cy="208" r="10" class="l"/>
<path d="M930.5,71V73.7M930.5,76.3V79M926.5,75H929.2M931.8,75H934.5" stroke="#333" stroke-width="0.8" fill="none"/>
<circle cx="940.5" cy="71.3" r="2.3" class="l"/>
<path d="M1071.3 116.3 L1085.1 119.1 L1085.9 127.5 L1072.9 132.6 L1071.8 138.7 L1082.2 147.6 L1078.5 155.3 L1064.5 153.6 L1060.3 158.3 L1064.6 171.0 L1057.3 175.8 L1046.1 167.8 L1040.0 169.9 L1037.0 182.9 L1028.2 183.7 L1022.7 171.4 L1016.3 170.3 L1006.8 180.2 L998.8 176.7 L1000.5 163.4 L995.6 159.5 L982.1 163.6 L977.0 156.7 L985.5 146.1 L983.3 140.3 L969.5 137.5 L968.7 129.1 L981.7 124.0 L982.8 117.9 L972.4 109.0 L976.1 101.3 L990.1 103.0 L994.3 98.3 L990.0 85.6 L997.3 80.8 L1008.5 88.8 L1014.6 86.7 L1017.6 73.7 L1026.4 72.9 L1031.9 85.2 L1038.3 86.3 L1047.8 76.4 L1055.8 79.9 L1054.1 93.2 L1059.0 97.1 L1072.5 93.0 L1077.6 99.9 L1069.1 110.5Z" class="w" stroke-linejoin="round"/>
<circle cx="1026.8" cy="127.8" r="35" fill="#fff"/>
<clipPath id="gc"><rect x="940" y="40" width="160" height="88"/><circle cx="1026.8" cy="127.8" r="35"/></clipPath>
<g clip-path="url(#gc)">
<path d="M1019,98.5 C1014,98.6 1008,99 1003,99.8 C997,100.8 991,103.5 987,102.8 C982,100 978,92 973.7,84 L967,86 C969,96 973,108 979.5,119.8 C986,119.3 996,116.3 1003.7,113.7 C1004,124 1005,138 1011,157.5 L1016,175 L1050,175 L1061.5,132.5 C1060.5,124 1056,116 1050,109.5 C1044.5,104 1038.5,100 1033.7,98.4 C1030,103.5 1023,104 1019,98.5 Z" class="w"/>
<path d="M1041,127.3 C1042,135 1047,146 1054,156 M1038.3,131 C1040,139 1043,147 1048,155 M1041,127.3 L1038.3,131 M1008.7,151 L1014,160 M1015.3,150 L1020,160" class="l"/>
</g>
<path d="M993.3,117.6 A35,35 0 1 0 1061,120.5" class="l"/>
<path d="M967,85.8 C965.5,84 964.5,83 963.7,82 C962,80.5 960,79.5 958.7,78.7 C956.5,77 955,75 954.5,73.7 C953.5,72 953.3,71 953.7,70.5 C954.5,69.6 955.5,69.6 956.2,70 C957.5,71 958.8,72.5 960,73.7 L962.5,76.2 C961.8,74.8 961.2,73.5 961.2,72.5 C961.8,71 963,70.8 963.7,71.2 C965.2,72.3 966.5,73.7 967.5,75 C969,76.8 970.3,78.5 971.2,80 L973.7,84 Z" class="w"/>
<path d="M1021,77 L1034,77 L1038,88 L1033.3,90.4 L1031.5,93 L1032,96.5 L1034.5,100 C1031,104 1023,104 1018.7,98.6 L1022.1,95.6 L1021.5,87 Z" fill="#fff" stroke="none"/>
<path d="M1030.6,71.2 C1028.3,71 1026.2,71.4 1024.3,72.2 C1022.5,73 1021,74 1019.8,75.3 C1018.6,77 1017.9,79 1017.6,81.2 C1017.2,83.3 1016.9,85.4 1016.7,87.5 C1016.4,89.6 1016.1,91.7 1015.8,93.8 L1015.3,96.5 C1016.3,97.2 1017.4,97.5 1018.5,97.4 C1020,97.2 1021.2,96.6 1022.1,95.6 C1022.7,94.5 1023,93.3 1023,92 C1022.4,90.5 1021.9,89 1021.6,87.5 C1021.5,85.7 1021.7,83.9 1022.1,82.1 C1022.6,80.7 1023.3,79.5 1024.3,78.5 C1025.5,77.6 1026.9,77.2 1028.4,77.1 C1029.7,77.1 1030.9,77.4 1032,78 C1032.6,79 1032.9,80.1 1032.9,81.2 C1033.4,82.3 1034,83.3 1034.7,84.3 L1037.4,87 L1036.5,88.8 C1035.5,89.4 1034.4,89.9 1033.3,90.2 C1032.5,91 1031.9,91.9 1031.5,92.9 C1031.4,94.2 1031.6,95.4 1032,96.5 C1032.7,97.8 1033.6,99 1034.7,100.1 C1037.3,101.3 1039.7,102.6 1042,104 C1044.5,106.5 1047,109.5 1049,112.4 C1051,115 1053.3,118 1055.3,120.8 L1058.1,124.3 C1060,123.5 1061.8,122.3 1063,120.8 C1064.5,118.5 1065.5,116 1065.5,113.8 C1065.3,110.5 1064.3,107.5 1063,105.4 C1061,102.5 1058.5,100.3 1056,98.4 C1053,96.3 1050,94.3 1047.6,92.1 C1046,90.2 1044.7,88 1043.7,85.7 C1043.1,84.4 1042.7,83 1042.3,81.6 C1041.9,79.8 1041.3,78 1040.5,76.2 C1039.4,74.6 1038.1,73.4 1036.5,72.6 C1034.6,71.7 1032.6,71.2 1030.6,71.2 Z" fill="#000" stroke="#000" stroke-width="0.5"/>
<path d="M1018.5,98.7 C1021,101.5 1023.6,102.7 1026.1,102.3 C1029.3,102.3 1032,101.7 1034.2,100.5" class="l"/>
<circle cx="920.9" cy="159.4" r="44.9" fill="#000"/>
<circle cx="921.65" cy="158.95000000000002" r="42.7" fill="#fff"/>
<path d="M898.2,127.0 A39.6,39.6 0 0 1 952.1,135.0 M881.9,166.3 A39.6,39.6 0 0 1 885.6,141.4 M942.5,192.6 A39.6,39.6 0 0 1 892.9,187.4" class="l"/>
<text x="921.2" y="168" font-size="29" font-weight="bold" text-anchor="middle" textLength="59" lengthAdjust="spacingAndGlyphs" class="t" stroke="#000" stroke-width="0.9" stroke-linejoin="round">24/7</text>
<path d="M1022,213.2 H1073.5 Q1076,213.2 1076,215.7 V234.1 Q1076,236.6 1073.5,236.6 H1064.7 L1060.4,243 L1055,236.6 H1022 Q1019.5,236.6 1019.5,234.1 V215.7 Q1019.5,213.2 1022,213.2Z" class="w"/>
<path d="M1027.3,222.9H1035.5M1040,222.9H1067.6M1027.3,227.6H1067.6" class="l"/>
<path d="M998,193.4 H1049.6 Q1052.1,193.4 1052.1,195.9 V214.3 Q1052.1,216.8 1049.6,216.8 H1015.4 L1010.7,223 L1006.4,216.8 H998 Q995.5,216.8 995.5,214.3 V195.9 Q995.5,193.4 998,193.4Z" class="w"/>
<path d="M1003.5,204.2H1031M1036,204.2H1044M1003.5,208.5H1044" class="l"/>
<path d="M1076.6,281.6 L1036,322" class="l"/>
<path d="M866.1,246.4 L875.6,248.7 L888.9,251.2 L894.6,254 L894.2,257.8 C899,259 904,261 908.9,262.6 C914,264.5 919,267 924.1,268.3 C927.5,268.8 930.5,268.5 933.6,267.3 C937.5,265.5 940.5,263 943.1,259.7 C944.5,256 945.8,251.5 947,246.8 L954.2,221.6 L960.8,225.8 L960.8,248 C961.3,254.5 961.4,261 961.1,267.3 C960.2,272 958.5,276.5 956.4,280.6 C954.5,284 952.3,287.3 949.7,290.1 L945.9,299.6 C941.8,302 937.7,304.2 933.6,306.3 C928,309.3 922.3,312.3 916.5,314.8 C911.5,317 906.5,318.8 901.3,319.6 L888.9,319.6 L887.6,324.2 L817.6,324.2 L819.5,314.8 C821.5,309 824,303.3 827.1,297.7 C830.5,289.8 834.3,282.2 838.5,274.9 C841.7,270.2 845.3,265.8 849,261.6 C854.5,256 860.3,251 866.1,246.4 Z" class="w"/>
<path d="M849,261.6 C863,260.5 878,259.3 893.7,258.6" class="l"/>
<path d="M888,276.8 C889,281 891,285 893.7,288.2 C896,291 898.5,293.5 901.3,294.9 C905,296.3 908.8,296.9 912.7,296.8 C917.8,296.5 922.8,295.8 927.9,294.9 C935.2,293.5 942.5,291.8 949.7,289.8" class="l"/>
<path d="M901.3,290 C905,292 910,293.8 915,294.6 L927.9,294.9 L933.2,306.3" class="l"/>
<path d="M858.5,283.5 C862.5,290.5 867.3,297.2 872.7,303.4 C877.8,309.2 883.2,314.6 888.9,319.6" class="l"/>
<path d="M947.4,246.2 L960.8,248" class="l"/>
<path d="M949.7,289.8 C954,291.2 958.5,293.2 962.1,295.8 C964.2,297.2 965.8,298.8 966.8,300.6 L967.6,306 L966.3,306.8 L964.6,302 L963.8,304 L962.6,311.8 L960.9,311.8 L959.5,305.5 L958.3,305.3 L957,311 L955.3,310.5 L955,304.8 L954.1,304.4 L953,307.5 L951.5,306.8 C951.3,304 950,301.5 945.9,299.6 Z" class="w"/>
<path d="M954.2,221.6 L966.2,210.2 L966.8,215.6 L971,216.8 L977,212 Q979,211 981.2,211.4 Q983.2,211.6 982.8,212.8 L975.2,222.2 L960.8,225.8 Z" fill="#fff" stroke="none"/>
<path d="M954.2,221.6 L966.2,210.2 L966.8,215.6 L971,216.8 L977,212 Q979,211 981.2,211.4 Q983.2,211.6 982.8,212.8 L975.2,222.2 L960.8,225.8" class="l"/>
<path d="M882.2,239.8 L875.6,248.7 L888.9,251.2 L888.8,245.8 Z" class="w"/>
<path d="M888.8,211.6 C892,211 895,212.5 896,214.6 C898,216 898.8,218 898.4,219.4 C898,221.5 897,223.2 896,224.2 L898.6,229 L897.8,233.2 C899,234.3 899.8,235.2 900.2,236.2 L902,241 C901.5,243 900,244 898.4,244.6 C896,246 894,246.6 892.4,246.4 C890.5,245.5 889,244 887.6,242.2 C885.5,241 883.5,239.5 882.2,237.4 L874.4,233.2 C871.5,232 870,230.5 869.6,229 C868.6,227.5 868.6,225.5 869,224.2 C869.5,221.5 871,219.5 873.2,218.2 C875,216 877.5,214.2 880.4,213.4 C883,212 886,211.4 888.8,211.6 Z" fill="#000" stroke="#000" stroke-width="0.6"/>
<path d="M888.8,220 C891.5,220 894,221.5 896,224.2 L898.6,229 L897,230.6 L896.4,233.3 C894,234.1 892,234.1 890,233.8 C888,233.3 886.3,232.5 885.2,231.4 C884,230 883.4,229 883.4,227.8 C883.3,226 883.8,224.3 884.6,223 C885.6,221.5 887,220.3 888.8,220 Z" fill="#fff"/>
<path d="M880,228.4 C879.4,222.5 880,218.5 881.4,215.8 C882.4,213.9 884,212.4 885.6,211.9" stroke="#fff" stroke-width="0.8" fill="none"/>
<circle cx="879.2" cy="232.6" r="4.5" fill="#fff" stroke="#000" stroke-width="0.9"/>
<path d="M887.8,242.2 L895.6,240.5" stroke="#fff" stroke-width="0.8"/>
<circle cx="896.6" cy="240.2" r="1.6" fill="#fff"/>
<rect x="809.5" y="324.6" width="207.7" height="14" rx="2.2" class="w"/>
<path d="M1020,273.2 L1051.5,274 Q1055.5,274.2 1052.5,277 L1008,319.5 Q1006.5,320.8 1004.5,320.8 L966.5,320.8 L1015.5,274.6 Q1017.5,273.1 1020,273.2Z" fill="#000"/>
<ellipse cx="1023.7" cy="288.8" rx="5" ry="3" transform="rotate(-25 1023.7 288.8)" fill="#fff"/>
<path d="M918.8,321 H1006 Q1006.6,324.6 1003,324.6 H923 Q919.5,324.6 918.8,321Z" fill="#000"/>
</g>
<text x="219.3" y="413.4" class="cap">Relationship</text>
<text x="219.3" y="446.8" class="cap">marketing</text>
<text x="581.5" y="413.4" class="cap">Customer</text>
<text x="581.5" y="446.8" class="cap">care</text>
<text x="948" y="413.4" class="cap">24/7</text>
<text x="948" y="446.8" class="cap">service</text>
</svg>
</body></html>
